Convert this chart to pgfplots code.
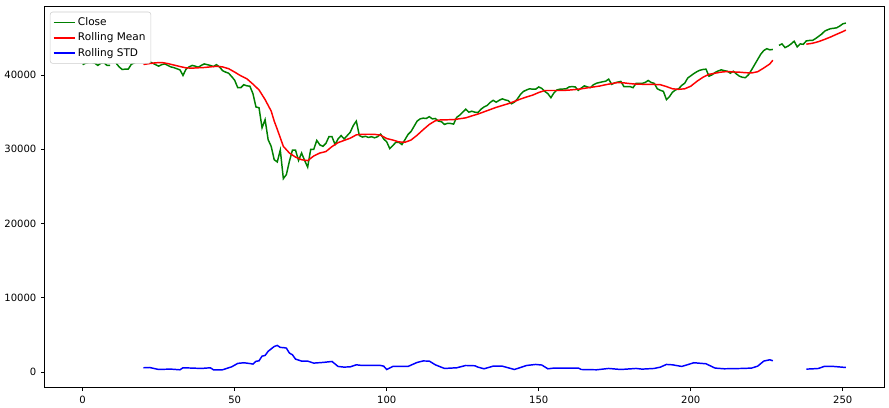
\documentclass[border=0pt]{standalone}
\usepackage{pgfplots}
\pgfplotsset{compat=1.18}
\usepackage{fontspec}
\setmainfont{DejaVu Sans}
\definecolor{mplgreen}{RGB}{0,128,0}
\definecolor{mplred}{RGB}{255,0,0}
\definecolor{mplblue}{RGB}{0,0,255}

\begin{document}
\begin{tikzpicture}
\begin{axis}[
  scale only axis,
  width=628.5pt, height=285.75pt,
  xmin=-12.55, xmax=263.55,
  ymin=-2100, ymax=49300,
  xtick={0,50,100,150,200,250},
  ytick={0,10000,20000,30000,40000},
  scaled y ticks=false,
  /pgf/number format/1000 sep={},
  /pgf/number format/assume math mode=true,
  tick label style={font=\fontsize{7.5}{9}\selectfont},
  tick align=outside, major tick length=2.6pt,
  xtick pos=bottom, ytick pos=left,
  axis line style={line width=0.6pt},
  every tick/.style={line width=0.6pt, black},
  unbounded coords=jump,
  legend style={at={(0.0064,0.985)}, anchor=north west, font=\fontsize{7.9}{9.3}\selectfont,
    draw=black!20, rounded corners=2pt, inner sep=2pt, row sep=0pt,
    cells={anchor=west}},
  legend cell align=left,
  legend image code/.code={\draw[sharp corners, #1, line width=1.2pt] (0cm,0cm) -- (0.55cm,0cm);},
]
\addplot[color=mplgreen, line width=1.1pt] coordinates {
(0,41400)(1,41600)(2,41700)(3,41700)(4,41600)(5,41300)(6,41600)(7,41650)(8,41300)(9,41300)
(10,nan)
(11,41600)(12,41100)(13,40750)(14,40800)(15,40800)(16,41450)(17,41650)(18,41850)(19,41900)
(20,41850)(21,41850)(22,41800)(23,41600)(24,41400)(25,41200)(26,41400)(27,41500)(28,41300)(29,41100)
(30,41000)(31,40850)(32,40700)(33,39950)(34,40800)(35,41100)(36,41300)(37,41200)(38,41050)(39,41300)
(40,41500)(41,41400)(42,41300)(43,41150)(44,41400)(45,41100)(46,40600)(47,40400)(48,40250)(49,39800)
(50,39300)(51,38300)(52,38300)(53,38700)(54,38550)(55,38500)(56,37500)(57,35700)(58,35600)(59,32900)
(60,34000)(61,31300)(62,30400)(63,28600)(64,28300)(65,29900)(66,26050)(67,26600)(68,28400)(69,29900)
(70,29900)(71,28500)(72,29500)(73,28500)(74,27600)(75,30000)(76,30000)(77,31200)(78,30600)(79,30400)
(80,30800)(81,31700)(82,31700)(83,30650)(84,31400)(85,31850)(86,31400)(87,31850)(88,32300)(89,33200)
(90,33800)(91,31850)(92,31650)(93,31750)(94,31600)(95,31700)(96,31550)(97,31700)(98,32050)(99,31400)
(100,31000)(101,30100)(102,30500)(103,30950)(104,30950)(105,30640)(106,31300)(107,32000)(108,32400)(109,33100)
(110,33800)(111,34100)(112,34200)(113,34150)(114,34400)(115,34100)(116,34150)(117,33800)(118,33720)(119,33350)
(120,33500)(121,33480)(122,33400)(123,34300)(124,34600)(125,35000)(126,35400)(127,35000)(128,35130)(129,35000)
(130,34950)(131,35400)(132,35700)(133,35900)(134,36300)(135,36600)(136,36350)(137,36600)(138,36800)(139,36650)
(140,36550)(141,36130)(142,36350)(143,36800)(144,37400)(145,37800)(146,38000)(147,38150)(148,38100)(149,38100)
(150,38400)(151,38200)(152,37800)(153,37500)(154,36950)(155,37600)(156,38000)(157,38100)(158,38120)(159,38150)
(160,38400)(161,38450)(162,38400)(163,37950)(164,38250)(165,38550)(166,38400)(167,38300)(168,38700)(169,38900)
(170,39000)(171,39100)(172,39170)(173,39450)(174,38750)(175,38950)(176,39050)(177,39150)(178,38450)(179,38450)
(180,38450)(181,38300)(182,38880)(183,38880)(184,38880)(185,39000)(186,39270)(187,39000)(188,38880)(189,38150)
(190,37950)(191,37800)(192,36700)(193,37100)(194,37700)(195,38000)(196,38150)(197,38600)(198,38900)(199,39600)
(200,39900)(201,40200)(202,40450)(203,40650)(204,40750)(205,40800)(206,39850)(207,40030)(208,40350)(209,40550)
(210,40700)(211,40600)(212,40520)(213,40250)(214,40520)(215,40150)(216,39850)(217,39700)(218,39650)(219,40050)
(220,40700)(221,41400)(222,42100)(223,42800)(224,43300)(225,43550)(226,43400)(227,43450)
(228,nan)
(229,44000)(230,44200)(231,43700)(232,43900)(233,44200)(234,44560)(235,43800)(236,44200)(237,44140)(238,44600)
(239,44660)(240,44660)(241,44900)(242,45200)(243,45500)(244,45900)(245,46100)(246,46250)(247,46300)(248,46370)
(249,46600)(250,46900)(251,47000)
};
\addplot[color=mplred, line width=1.1pt] coordinates {
(20,41420)(22,41550)(24,41650)(26,41690)(28,41550)(30,41350)(32,41150)(34,40970)(36,40930)(38,40980)
(40,41020)(42,41100)(44,41180)(46,41100)(48,40860)(50,40400)(52,39900)(54,39500)(56,38780)(58,38000)
(60,36700)(62,35150)(63,33800)(64,32700)(66,30400)(68,29500)(70,28950)(72,28600)(74,28480)(76,29100)
(78,29500)(80,29700)(82,30370)(84,30900)(86,31200)(88,31500)(90,31950)(92,32020)(94,32030)(96,32020)
(98,31900)(100,31450)(102,31250)(104,31000)(106,30950)(108,31250)(110,31900)(112,32650)(114,33350)(116,33850)
(118,33980)(120,33980)(122,34000)(124,34120)(126,34240)(128,34500)(130,34750)(132,35050)(134,35350)(136,35650)
(138,35900)(140,36150)(142,36450)(144,36770)(146,37050)(148,37300)(150,37650)(152,37920)(154,37920)(156,37920)
(158,37920)(160,37980)(162,38050)(164,38150)(166,38280)(168,38400)(170,38520)(172,38700)(174,38850)(176,39000)
(178,38950)(180,38850)(182,38780)(184,38760)(186,38760)(188,38740)(190,38700)(192,38450)(194,38150)(196,38080)
(198,38150)(200,38500)(202,39150)(204,39700)(206,40100)(208,40250)(210,40400)(212,40480)(214,40420)(216,40390)
(218,40320)(220,40280)(222,40450)(224,40950)(226,41500)(227,42000)
(228,nan)
(238,44160)(240,44280)(242,44500)(244,44800)(246,45130)(248,45500)(250,45850)(251,46050)
};
\addplot[color=mplblue, line width=1.1pt] coordinates {
(20,580)(22,620)(25,350)(27,380)(29,400)(32,310)(33,580)(36,540)(39,490)(42,580)
(43,310)(46,310)(49,710)(51,1170)(53,1260)(55,1150)(56,1080)(57,1450)(58,1520)(59,2150)
(60,2240)(61,2800)(63,3450)(64,3590)(65,3320)(66,3300)(67,3230)(68,2560)(69,2330)(70,1750)
(72,1480)(74,1480)(76,1210)(79,1300)(82,1430)(83,1100)(84,760)(86,670)(88,710)(90,980)
(92,890)(98,890)(99,800)(100,350)(102,760)(107,760)(110,1300)(112,1500)(114,1480)(116,980)
(119,490)(123,580)(126,890)(129,850)(130,670)(132,445)(135,800)(138,800)(142,350)(146,890)
(149,1030)(151,950)(153,445)(155,540)(163,540)(164,350)(169,310)(173,490)(177,350)(182,490)
(184,400)(188,490)(190,670)(192,1030)(194,980)(197,760)(199,1000)(201,1260)(205,1120)(208,540)
(211,445)(217,490)(220,540)(222,800)(224,1480)(226,1660)(227,1520)
(228,nan)
(238,400)(241,460)(242,490)(244,780)(247,760)(251,620)
};
\legend{Close, Rolling Mean, Rolling STD}
\end{axis}
\path (current axis.north east) ++(3.75pt,4.5pt);
\end{tikzpicture}
\end{document}
